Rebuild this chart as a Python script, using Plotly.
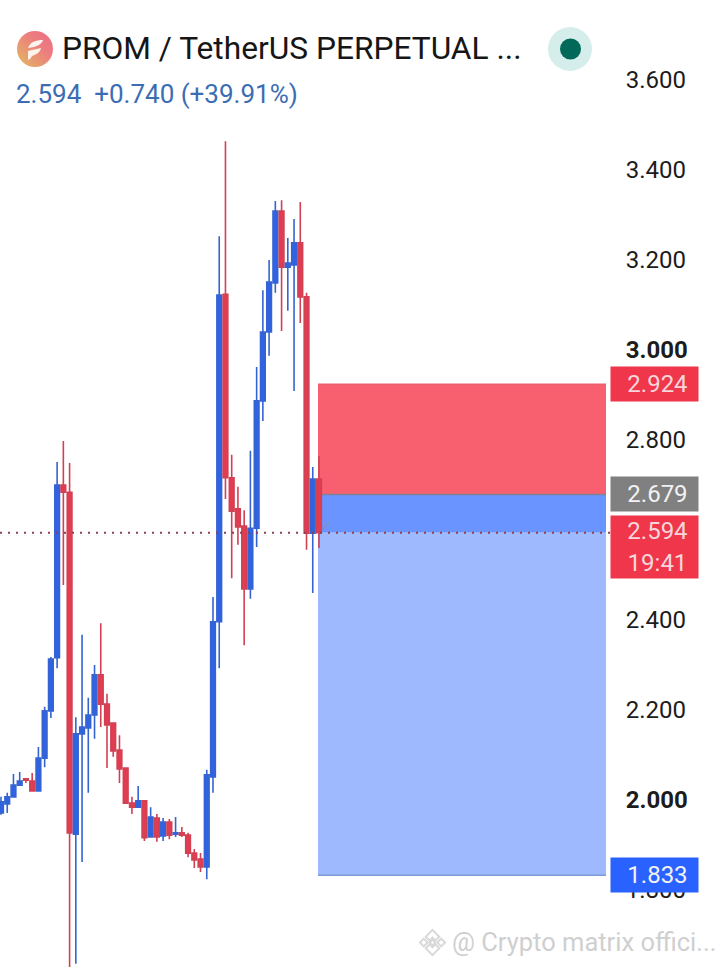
import base64
import plotly.graph_objects as go

candle_index = list(range(52))
open_ = [1.971,1.991,2.007,2.033,2.047,2.042,2.020,2.093,2.198,2.316,2.700,2.684,1.924,2.147,2.160,2.189,2.278,2.213,2.171,2.111,2.071,1.993,1.984,1.998,1.918,1.960,1.920,1.951,1.924,1.927,1.922,1.882,1.869,1.851,2.051,2.396,3.124,2.716,2.647,2.609,2.469,2.604,2.887,3.040,3.149,3.309,3.184,3.189,3.238,3.118,2.593,2.713]
high = [2.007,2.016,2.058,2.062,2.049,2.060,2.118,2.207,2.318,2.751,2.798,2.749,2.184,2.367,2.227,2.300,2.393,2.236,2.173,2.144,2.073,2.007,2.031,1.998,1.984,1.969,1.960,1.958,1.962,1.940,1.927,1.891,1.882,2.067,2.451,3.253,3.464,2.767,2.696,2.644,2.776,2.962,3.133,3.200,3.331,3.333,3.249,3.291,3.329,3.127,2.740,2.764]
low = [1.967,1.971,2.007,2.033,2.038,2.020,2.020,2.073,2.182,2.293,2.478,1.611,1.636,1.862,2.016,2.136,2.162,2.071,2.096,2.038,1.991,1.969,1.982,1.909,1.918,1.907,1.909,1.913,1.918,1.918,1.873,1.849,1.840,1.824,2.016,2.293,2.669,2.493,2.567,2.344,2.447,2.562,2.842,2.987,3.127,3.042,3.087,2.909,3.060,2.556,2.460,2.560]
close = [1.996,2.007,2.033,2.042,2.044,2.020,2.093,2.198,2.313,2.700,2.684,1.927,2.147,2.162,2.189,2.278,2.213,2.167,2.109,2.069,1.993,1.984,1.998,1.916,1.962,1.918,1.951,1.922,1.927,1.922,1.882,1.867,1.851,2.056,2.396,3.122,2.716,2.642,2.607,2.469,2.604,2.887,3.040,3.151,3.309,3.184,3.193,3.238,3.118,2.593,2.713,2.594]

tick_values = [1.8, 2.0, 2.2, 2.4, 2.6, 2.8, 3.0, 3.2, 3.4, 3.6]
tick_labels = ["1.800", "<b>2.000</b>", "2.200", "2.400", "", "2.800", "<b>3.000</b>", "3.200", "3.400", "3.600"]

stop_price = 2.924
entry_price = 2.679
last_price = 2.594
target_price = 1.833

W, H = 719, 967
PLOT_W = 618
X0, DX = 1.0, 6.235
Y_TOP, Y_BOTTOM = 3.7778, 1.6289
FONT = "Roboto"


def px_x(px):
    return px / PLOT_W


def px_y(py):
    return 1 - py / H


def idx(px):
    return (px - X0) / DX


RECT_L, RECT_R = idx(318), idx(606)
RED, BLUE = "#e23c50", "#2f62e4"

fig = go.Figure()
fig.add_trace(go.Candlestick(
    x=candle_index, open=open_, high=high, low=low, close=close,
    increasing=dict(line=dict(color="#3564d2", width=1.6), fillcolor=BLUE),
    decreasing=dict(line=dict(color="#d24054", width=1.6), fillcolor=RED),
    whiskerwidth=0, showlegend=False,
))

shapes = [
    dict(type="rect", x0=RECT_L, x1=RECT_R, y0=entry_price, y1=stop_price, fillcolor="#f8606f", line_width=0, layer="below"),
    dict(type="rect", x0=RECT_L, x1=RECT_R, y0=last_price, y1=entry_price, fillcolor="#6a94ff", line_width=0, layer="below"),
    dict(type="rect", x0=RECT_L, x1=RECT_R, y0=target_price, y1=last_price, fillcolor="#9fb9ff", line_width=0, layer="below"),
    dict(type="line", x0=RECT_L, x1=RECT_R, y0=stop_price, y1=stop_price, line=dict(color="#e8606c", width=1.5), layer="below"),
    dict(type="line", x0=RECT_L, x1=RECT_R, y0=entry_price, y1=entry_price, line=dict(color="#7f8296", width=1.5), layer="below"),
    dict(type="line", x0=RECT_L, x1=RECT_R, y0=target_price, y1=target_price, line=dict(color="#7f9bd8", width=1.5), layer="below"),
    dict(type="line", xref="paper", x0=0, x1=px_x(610), y0=last_price, y1=last_price,
         line=dict(color="#8c3f50", width=2, dash="2px,6px")),
    dict(type="line", xref="paper", yref="paper", x0=px_x(323), x1=px_x(329), y0=px_y(529), y1=px_y(522),
         line=dict(color="#8090c0", width=1.2)),
    dict(type="circle", xref="paper", yref="paper", x0=px_x(548), x1=px_x(592), y0=px_y(71), y1=px_y(27),
         fillcolor="#d6eeeb", line_width=0),
    dict(type="circle", xref="paper", yref="paper", x0=px_x(560), x1=px_x(581), y0=px_y(59.5), y1=px_y(38.5),
         fillcolor="#00695a", line_width=0),
]

annotations = []
RED_TAG = "#f0364a"


def tag(price, text, color, height=34, yshift=0, size=24):
    annotations.append(dict(
        xref="paper", yref="y", x=px_x(610), y=price, xanchor="left", yanchor="middle",
        text=text, showarrow=False, bgcolor=color, width=87, height=height, yshift=yshift,
        align="center", valign="middle", borderpad=0,
        font=dict(family=FONT, size=size, color="#f6d6da" if color == RED_TAG else "#f2f2f2"),
    ))


tag(stop_price, "\u00a02.924", RED_TAG)
tag(entry_price, "\u00a02.679", "#808080")
tag(last_price, "\u00a02.594<br>\u00a019:41", RED_TAG, height=62, yshift=-14.5)
tag(target_price, "\u00a01.833", "#2962ff")

annotations.append(dict(xref="paper", yref="paper", x=px_x(60), y=px_y(49), xanchor="left", yanchor="middle",
                        text="PROM / TetherUS PERPETUAL ...", showarrow=False,
                        font=dict(family=FONT, size=31.7, color="#161616")))
annotations.append(dict(xref="paper", yref="paper", x=px_x(14), y=px_y(94), xanchor="left", yanchor="middle",
                        text="2.594  +0.740 (+39.91%)", showarrow=False,
                        font=dict(family=FONT, size=26, color="#3c6db4")))
annotations.append(dict(xref="paper", yref="paper", x=px_x(450), y=px_y(942), xanchor="left", yanchor="middle",
                        text="@ Crypto matrix offici...", showarrow=False,
                        font=dict(family=FONT, size=25.5, color="#cfcfcf")))

logo_svg = """<svg xmlns='http://www.w3.org/2000/svg' viewBox='0 0 36 36'>
<defs><linearGradient id='g' x1='0' y1='1' x2='1' y2='0'><stop offset='0' stop-color='#e3bb60'/><stop offset='0.6' stop-color='#ec7f7e'/><stop offset='1' stop-color='#ec6a88'/></linearGradient></defs>
<circle cx='18' cy='18' r='18' fill='url(#g)'/>
<path d='M11 17 C13 11 19 9 26 9 C25 13 20 16 11 17Z M11 20 C15 19 20 18 24 17 C23 22 18 24 15 25 C14 27 13 28 11 29 Z' fill='#fff3ee'/>
</svg>"""
mark_svg = """<svg xmlns='http://www.w3.org/2000/svg' viewBox='0 0 30 30'>
<g fill='none' stroke='#d8d8d8' stroke-width='2'>
<path d='M15 2 L22 9 L18 13 L15 10 L12 13 L8 9Z'/><path d='M15 28 L22 21 L18 17 L15 20 L12 17 L8 21Z'/>
<path d='M6 11 L10 15 L6 19 L2 15Z'/><path d='M24 11 L28 15 L24 19 L20 15Z'/><path d='M15 12 L18 15 L15 18 L12 15Z'/>
</g></svg>"""


def uri(svg):
    return "data:image/svg+xml;base64," + base64.b64encode(svg.encode()).decode()


images = [
    dict(source=uri(logo_svg), xref="paper", yref="paper", x=px_x(17), y=px_y(31), sizex=36 / PLOT_W, sizey=36 / H,
         xanchor="left", yanchor="top", sizing="stretch", layer="above"),
    dict(source=uri(mark_svg), xref="paper", yref="paper", x=px_x(418), y=px_y(928), sizex=29 / PLOT_W, sizey=29 / H,
         xanchor="left", yanchor="top", sizing="stretch", layer="above"),
]

# 2.600 sits behind the last-price tag in the reference, so its label stays empty.
fig.update_layout(
    width=W, height=H, autosize=False,
    margin=dict(l=0, r=W - PLOT_W, t=0, b=0, pad=0),
    paper_bgcolor="white", plot_bgcolor="white",
    showlegend=False, shapes=shapes, annotations=annotations, images=images,
    boxgap=0.25, boxgroupgap=0,
    xaxis=dict(range=[idx(0), idx(PLOT_W)], visible=False, rangeslider=dict(visible=False), fixedrange=True),
    yaxis=dict(range=[Y_BOTTOM, Y_TOP], side="right", tickmode="array", tickvals=tick_values, ticktext=tick_labels,
               showgrid=False, zeroline=False, showline=False, ticks="outside", ticklen=2, tickcolor="rgba(0,0,0,0)",
               tickfont=dict(family=FONT, size=24, color="#1c1c1c"), fixedrange=True),
    font=dict(family=FONT),
)

fig.write_html("out.html", config=dict(displayModeBar=False),
               post_script="document.body.style.margin='0';document.body.style.overflow='hidden';")
